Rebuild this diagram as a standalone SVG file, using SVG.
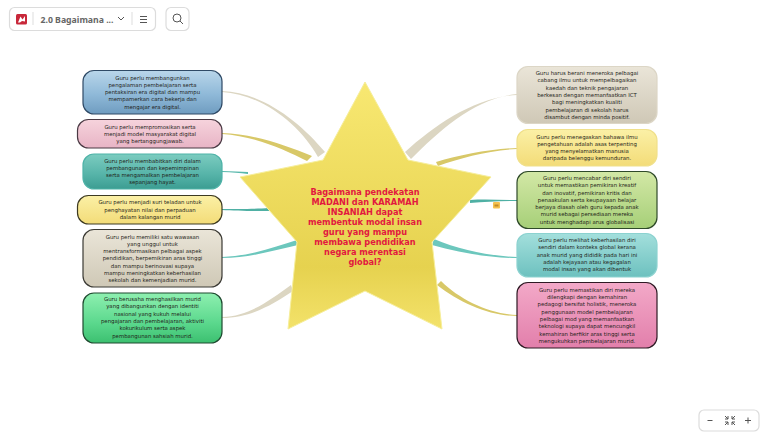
<svg xmlns="http://www.w3.org/2000/svg" width="768" height="438" viewBox="0 0 768 438">
<style>
text{font-family:"DejaVu Sans",Verdana,sans-serif;text-anchor:middle}
.t{font-size:5.4px;fill:#1f1f1a}
.c{font-size:8.2px;font-weight:700;fill:#e2183f}
.n{stroke-width:1.2}
.ui{fill:#fff;stroke:#dcdcdc;stroke-width:1.2}
.ic{fill:none;stroke:#555;stroke-width:1}
</style>
<defs>
<linearGradient id="blue" x1="0" y1="0" x2="0" y2="1"><stop offset="0" stop-color="#b9d6ea"/><stop offset=".55" stop-color="#8fb9d8"/><stop offset="1" stop-color="#6f9cc0"/></linearGradient>
<linearGradient id="pink" x1="0" y1="0" x2="0" y2="1"><stop offset="0" stop-color="#f6d3dc"/><stop offset="1" stop-color="#e8b4c5"/></linearGradient>
<linearGradient id="teal" x1="0" y1="0" x2="0" y2="1"><stop offset="0" stop-color="#7cccc0"/><stop offset=".6" stop-color="#55b3a8"/><stop offset="1" stop-color="#3c9d92"/></linearGradient>
<linearGradient id="yellow" x1="0" y1="0" x2="0" y2="1"><stop offset="0" stop-color="#fbf0a6"/><stop offset="1" stop-color="#f3dc78"/></linearGradient>
<linearGradient id="stone" x1="0" y1="0" x2="0" y2="1"><stop offset="0" stop-color="#eae5d8"/><stop offset="1" stop-color="#cfc8b6"/></linearGradient>
<linearGradient id="green" x1="0" y1="0" x2="0" y2="1"><stop offset="0" stop-color="#8ef0b0"/><stop offset=".6" stop-color="#5bd88d"/><stop offset="1" stop-color="#3cc070"/></linearGradient>
<linearGradient id="lime" x1="0" y1="0" x2="0" y2="1"><stop offset="0" stop-color="#d3e8a6"/><stop offset="1" stop-color="#a6cf78"/></linearGradient>
<linearGradient id="aqua" x1="0" y1="0" x2="0" y2="1"><stop offset="0" stop-color="#a3dfdc"/><stop offset="1" stop-color="#6dc1bf"/></linearGradient>
<linearGradient id="rose" x1="0" y1="0" x2="0" y2="1"><stop offset="0" stop-color="#f3a9c8"/><stop offset="1" stop-color="#e27fab"/></linearGradient>
<linearGradient id="star" x1="0" y1="0" x2="0" y2="1"><stop offset="0" stop-color="#f8e872"/><stop offset=".75" stop-color="#e6d24f"/><stop offset="1" stop-color="#f3e26a"/></linearGradient>
</defs>
<rect width="768" height="438" fill="#fff"/>
<g id="connectors">
<path d="M222 92C262 94 300 125 318 157L325 152C300 122 262 92 222 91Z" fill="#dcd6c2"/>
<path d="M222 134C255 136 285 150 307 161L312 156C285 145 255 134 222 133Z" fill="#d8c868"/>
<path d="M222 172C232 172 240 173 248 174L248 172C240 172 232 171 222 171Z" fill="#58b8ac"/>
<path d="M222 210C235 211 255 211 269 211L269 208C255 209 235 209 222 209Z" fill="#4fb0a4"/>
<path d="M222 258C250 258 275 250 298 245L297 240C275 247 250 256 222 257Z" fill="#6cc7bd"/>
<path d="M222 318C250 318 272 305 293 291L291 285C270 300 250 316 222 317Z" fill="#dcd6c2"/>
<path d="M517 95C475 97 435 125 405 152L411 159C440 130 475 98 517 94Z" fill="#dcd6c2"/>
<path d="M517 148C490 149 460 155 436 162L438 166C460 158 490 150 517 149Z" fill="#d8c868"/>
<path d="M517 200C500 200 485 199 470 200L470 203C485 202 500 201 517 201Z" fill="#4fb0a4"/>
<path d="M517 257C490 256 460 250 434 239L432 245C460 253 490 258 517 258Z" fill="#6cc7bd"/>
<path d="M517 315C490 314 460 300 441 281L437 285C460 303 490 316 517 316Z" fill="#d8c868"/>
</g>
<g id="center">
<polygon points="365,82 408,160 491,177 432,242 442,329 365,291 288,329 297,242 240,177 323,160" fill="url(#star)" stroke="#f6ee9c" stroke-width="1"/>
<text class="c"><tspan x="365" y="195">Bagaimana pendekatan</tspan><tspan x="365" y="205">MADANI dan KARAMAH</tspan><tspan x="365" y="215">INSANIAH dapat</tspan><tspan x="365" y="225">membentuk modal insan</tspan><tspan x="365" y="235">guru yang mampu</tspan><tspan x="365" y="244.500">membawa pendidikan</tspan><tspan x="365" y="254.500">negara merentasi</tspan><tspan x="365" y="264.500">global?</tspan></text>
</g>
<g id="node-l1"><rect class="n" x="83" y="70.500" width="139" height="43.500" rx="11" fill="url(#blue)" stroke="#2f4a66"/>
<text class="t"><tspan x="152.500" y="79.500">Guru perlu membangunkan</tspan><tspan x="152.500" y="87">pengalaman pembelajaran serta</tspan><tspan x="152.500" y="94">pentaksiran era digital dan mampu</tspan><tspan x="152.500" y="101.300">mempamerkan cara bekerja dan</tspan><tspan x="152.500" y="108.700">mengajar era digital.</tspan></text></g>
<g id="node-l2"><rect class="n" x="77.500" y="119.500" width="144.500" height="28.500" rx="11" fill="url(#pink)" stroke="#4a3a44"/>
<text class="t"><tspan x="150" y="128.500">Guru perlu mempromosikan serta</tspan><tspan x="150" y="136">menjadi model masyarakat digital</tspan><tspan x="150" y="143">yang bertanggungjawab.</tspan></text></g>
<g id="node-l3"><rect class="n" x="83" y="154" width="139" height="35" rx="11" fill="url(#teal)" stroke="#4fb3a8"/>
<text class="t"><tspan x="152.500" y="162.700">Guru perlu membabitkan diri dalam</tspan><tspan x="152.500" y="170">pembangunan dan kepemimpinan</tspan><tspan x="152.500" y="177">serta mengamalkan pembelajaran</tspan><tspan x="152.500" y="184.300">sepanjang hayat.</tspan></text></g>
<g id="node-l4"><rect class="n" x="77.500" y="195.500" width="144.500" height="28.500" rx="11" fill="url(#yellow)" stroke="#3d3a22"/>
<text class="t"><tspan x="150" y="204">Guru perlu menjadi suri teladan untuk</tspan><tspan x="150" y="211.500">penghayatan nilai dan perpaduan</tspan><tspan x="150" y="219">dalam kalangan murid</tspan></text></g>
<g id="node-l5"><rect class="n" x="83" y="229.500" width="139" height="57.500" rx="11" fill="url(#stone)" stroke="#3b3a34"/>
<text class="t"><tspan x="152.500" y="238.500">Guru perlu memiliki satu wawasan</tspan><tspan x="152.500" y="245.500">yang unggul untuk</tspan><tspan x="152.500" y="253">mentransformasikan pelbagai aspek</tspan><tspan x="152.500" y="260">pendidikan, berpemikiran aras tinggi</tspan><tspan x="152.500" y="267.500">dan mampu berinovasi supaya</tspan><tspan x="152.500" y="274.800">mampu meningkatkan keberhasilan</tspan><tspan x="152.500" y="282.300">sekolah dan kemenjadian murid.</tspan></text></g>
<g id="node-l6"><rect class="n" x="83" y="293" width="139" height="50" rx="11" fill="url(#green)" stroke="#1f4a30"/>
<text class="t"><tspan x="152.500" y="301">Guru berusaha menghasilkan murid</tspan><tspan x="152.500" y="308">yang dibangunkan dengan identiti</tspan><tspan x="152.500" y="315.500">nasional yang kukuh melalui</tspan><tspan x="152.500" y="323">pengajaran dan pembelajaran, aktiviti</tspan><tspan x="152.500" y="330.300">kokurikulum serta aspek</tspan><tspan x="152.500" y="337.700">pembangunan sahsiah murid.</tspan></text></g>
<g id="node-r1"><rect class="n" x="517" y="66.500" width="140" height="57" rx="11" fill="url(#stone)" stroke="#dcd6c6"/>
<text class="t"><tspan x="587" y="75">Guru harus berani meneroka pelbagai</tspan><tspan x="587" y="82">cabang ilmu untuk mempelbagaikan</tspan><tspan x="587" y="89.500">kaedah dan teknik pengajaran</tspan><tspan x="587" y="97">berkesan dengan memanfaatkan ICT</tspan><tspan x="587" y="104.300">bagi meningkatkan kualiti</tspan><tspan x="587" y="111.500">pembelajaran di sekolah harus</tspan><tspan x="587" y="118.800">disambut dengan minda positif.</tspan></text></g>
<g id="node-r2"><rect class="n" x="517" y="129.500" width="140" height="36.500" rx="11" fill="url(#yellow)" stroke="#f0e08a"/>
<text class="t"><tspan x="587" y="138.500">Guru perlu menegaskan bahawa ilmu</tspan><tspan x="587" y="145.700">pengetahuan adalah asas terpenting</tspan><tspan x="587" y="153">yang menyelamatkan manusia</tspan><tspan x="587" y="160.300">daripada belenggu kemunduran.</tspan></text></g>
<g id="node-r3"><rect class="n" x="517" y="171.500" width="140" height="57" rx="11" fill="url(#lime)" stroke="#2f4a2a"/>
<text class="t"><tspan x="587" y="180">Guru perlu mencabar diri sendiri</tspan><tspan x="587" y="187.200">untuk memastikan pemikiran kreatif</tspan><tspan x="587" y="194.500">dan inovatif, pemikiran kritis dan</tspan><tspan x="587" y="201.800">penaakulan serta keupayaan belajar</tspan><tspan x="587" y="209">berjaya diasah oleh guru kepada anak</tspan><tspan x="587" y="216.300">murid sebagai persediaan mereka</tspan><tspan x="587" y="223.500">untuk menghadapi arus globalisasi</tspan></text></g>
<g id="node-r4"><rect class="n" x="517" y="233.500" width="140" height="43.500" rx="11" fill="url(#aqua)" stroke="#8cd2d0"/>
<text class="t"><tspan x="587" y="242">Guru perlu melihat keberhasilan diri</tspan><tspan x="587" y="249.200">sendiri dalam konteks global kerana</tspan><tspan x="587" y="256.500">anak murid yang dididik pada hari ini</tspan><tspan x="587" y="264">adalah kejayaan atau kegagalan</tspan><tspan x="587" y="271.300">modal insan yang akan dibentuk</tspan></text></g>
<g id="node-r5"><rect class="n" x="517" y="282.500" width="140" height="65.500" rx="11" fill="url(#rose)" stroke="#2e1a24"/>
<text class="t"><tspan x="587" y="291.500">Guru perlu memastikan diri mereka</tspan><tspan x="587" y="299">dilengkapi dengan kemahiran</tspan><tspan x="587" y="306.300">pedagogi bersifat holistik, meneroka</tspan><tspan x="587" y="313.500">penggunaan model pembelajaran</tspan><tspan x="587" y="321">pelbagai mod yang memanfaatkan</tspan><tspan x="587" y="328.300">teknologi supaya dapat mencungkil</tspan><tspan x="587" y="335.700">kemahiran berfikir aras tinggi serta</tspan><tspan x="587" y="343">mengukuhkan pembelajaran murid.</tspan></text></g>
<g id="marker-icon"><rect x="493" y="202" width="7" height="6.500" rx="1" fill="#f5c04e"/><rect x="494.500" y="204.500" width="4" height="2" fill="#c08a2a"/></g>
<g id="toolbar">
<rect class="ui" x="9.500" y="7.500" width="146" height="23" rx="5"/>
<rect x="16" y="14" width="11" height="10.500" rx="1.500" fill="#c8283a"/>
<path d="M18 22.500L20.500 16.500L22.500 19.500L25 16V21.500L22 21L20 22.500Z" fill="#fff"/>
<line x1="33" y1="12" x2="33" y2="25" stroke="#ddd"/>
<text x="77" y="22.500" style="font-family:'Noto Sans',sans-serif;font-size:8.700px;font-weight:700;fill:#666">2.0 Bagaimana ...</text>
<path class="ic" d="M118 17l3 3 3-3"/>
<line x1="132" y1="12" x2="132" y2="25" stroke="#ddd"/>
<path class="ic" d="M140 16.500h7M140 19.500h7M140 22.500h7"/>
<rect class="ui" x="166" y="7.500" width="23" height="23" rx="5"/>
<circle class="ic" cx="177" cy="18" r="4"/><path class="ic" d="M180 21l3 3"/>
</g>
<g id="zoombar">
<rect class="ui" x="699" y="410" width="60" height="21" rx="5"/>
<path class="ic" d="M707.500 420.500h5M745 420.500h6M748 417.500v6"/>
<path class="ic" d="M725 416l3 3M735 416l-3 3M725 425l3-3M735 425l-3-3M728 416v3h-3M732 416v3h3M728 425v-3h-3M732 425v-3h3"/>
</g>
</svg>
